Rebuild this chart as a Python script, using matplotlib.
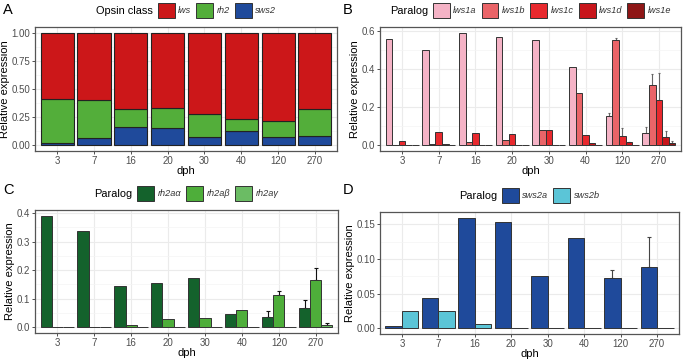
import numpy as np
import matplotlib
matplotlib.use("Agg")
import matplotlib.pyplot as plt
from matplotlib.patches import Rectangle
from matplotlib.offsetbox import HPacker, TextArea, DrawingArea, AnchoredOffsetbox
from matplotlib.ticker import MultipleLocator, FormatStrFormatter

plt.rcParams["font.family"] = ["Liberation Sans", "DejaVu Sans"]

dph = ["3", "7", "16", "20", "30", "40", "120", "270"]

# A: stacked opsin classes
classes = ["lws", "rh2", "sws2"]
sws2_tot = [0.022, 0.068, 0.166, 0.152, 0.075, 0.129, 0.071, 0.086]
rh2_tot = [0.391, 0.336, 0.154, 0.183, 0.204, 0.108, 0.146, 0.240]
lws_tot = [1 - a - b for a, b in zip(sws2_tot, rh2_tot)]
class_colors = ["#CC1719", "#53AE3A", "#1F4A9B"]

# B: lws paralogs
lws_names = ["lws1a", "lws1b", "lws1c", "lws1d", "lws1e"]
lws1a = [0.558, 0.504, 0.593, 0.570, 0.554, 0.414, 0.154, 0.063]
lws1b = [0.0, 0.009, 0.019, 0.030, 0.079, 0.277, 0.554, 0.318]
lws1c = [0.021, 0.072, 0.063, 0.058, 0.082, 0.054, 0.051, 0.237]
lws1d = [0.0, 0.009, 0.004, 0.004, 0.0, 0.011, 0.016, 0.046]
lws1e = [0.0, 0.0, 0.0, 0.0, 0.0, 0.002, 0.0, 0.011]
lws1a_err = [0, 0, 0, 0, 0, 0, 0.018, 0.032]
lws1b_err = [0, 0, 0, 0, 0, 0, 0.009, 0.056]
lws1c_err = [0, 0, 0, 0, 0, 0, 0.039, 0.142]
lws1d_err = [0, 0, 0, 0, 0, 0, 0.003, 0.028]
lws1e_err = [0, 0, 0, 0, 0, 0, 0.0, 0.012]
lws_colors = ["#F5B3C6", "#EA6468", "#E8292E", "#C8151B", "#8E1616"]

# C: rh2 paralogs
rh2_names = ["rh2aα", "rh2aβ", "rh2aγ"]
rh2a_alpha = [0.388, 0.338, 0.145, 0.154, 0.173, 0.046, 0.037, 0.067]
rh2a_beta = [0.0, 0.0, 0.010, 0.029, 0.032, 0.061, 0.112, 0.164]
rh2a_gamma = [0.0, 0.0, 0.001, 0.0, 0.002, 0.0, 0.002, 0.008]
rh2a_alpha_err = [0, 0, 0, 0, 0, 0, 0.022, 0.030]
rh2a_beta_err = [0, 0, 0, 0, 0, 0, 0.015, 0.042]
rh2a_gamma_err = [0, 0, 0, 0, 0, 0, 0.0, 0.006]
rh2_colors = ["#14622C", "#4EAE3A", "#6BBC64"]

# D: sws2 paralogs
sws2_names = ["sws2a", "sws2b"]
sws2a = [0.004, 0.0435, 0.160, 0.153, 0.0757, 0.130, 0.0724, 0.0885]
sws2b = [0.0246, 0.0256, 0.007, 0.001, 0.0, 0.0, 0.0, 0.0]
sws2a_err = [0, 0, 0, 0, 0, 0, 0.0116, 0.0431]
sws2b_err = [0, 0, 0, 0, 0, 0, 0, 0]
sws2_colors = ["#1F4A9B", "#5BC5D7"]

TICK_FS = 7.0
TITLE_FS = 8.0
EDGE = "#333333"


def style_axes(ax, ylim, major, minor, fmt):
    ax.set_xlim(0.4, 8.6)
    ax.set_ylim(*ylim)
    ax.set_xticks(np.arange(1, 9))
    ax.set_xticklabels(dph)
    ax.yaxis.set_major_locator(MultipleLocator(major))
    ax.yaxis.set_minor_locator(MultipleLocator(minor))
    ax.yaxis.set_major_formatter(FormatStrFormatter(fmt))
    ax.grid(which="major", color="#EBEBEB", lw=0.8)
    ax.grid(which="minor", axis="y", color="#F4F4F4", lw=0.5)
    ax.set_axisbelow(True)
    for s in ax.spines.values():
        s.set_color("#555555")
        s.set_linewidth(0.9)
    ax.tick_params(which="major", length=2.2, width=0.6, color="#333333",
                   labelsize=TICK_FS, labelcolor="#4D4D4D", pad=1.3)
    ax.tick_params(which="minor", length=0)
    ax.set_xlabel("dph", fontsize=TITLE_FS, labelpad=0.3)
    ax.set_ylabel("Relative expression", fontsize=TITLE_FS, labelpad=1.2)


def add_legend(ax, title, names, colors):
    items = [TextArea(title, textprops=dict(fontsize=TITLE_FS - 0.1))]
    for n, c in zip(names, colors):
        da = DrawingArea(12.2, 10.8, 0, 0)
        da.add_artist(Rectangle((0, 0), 12.2, 10.8, fc=c, ec=EDGE, lw=0.7))
        items.append(HPacker(children=[da, TextArea(n, textprops=dict(fontsize=6.6, style="italic",
                                                                      color="#333333"))],
                             pad=0, sep=2.5, align="center"))
    box = HPacker(children=items, pad=0, sep=3.5, align="center")
    anch = AnchoredOffsetbox(loc="lower center", child=box, frameon=False,
                             bbox_to_anchor=(0.5, 1.07), bbox_transform=ax.transAxes,
                             borderpad=0, pad=0)
    ax.add_artist(anch)


def dodge_bars(ax, series, errs, colors, ecolor="#333333", cap=1.2):
    x = np.arange(1, 9)
    k = len(series)
    w = 0.9 / k
    for i, (vals, err, c) in enumerate(zip(series, errs, colors)):
        pos = x + (i - (k - 1) / 2) * w
        ax.bar(pos, vals, width=w, color=c, edgecolor=EDGE, linewidth=0.7, zorder=2)
        err = np.array(err)
        m = err > 0
        if m.any():
            ax.errorbar(pos[m], np.array(vals)[m], yerr=[np.zeros(m.sum()), err[m]],
                        fmt="none", ecolor=ecolor, elinewidth=0.8, capsize=cap,
                        capthick=0.8, zorder=1)


fig = plt.figure(figsize=(6.85, 3.61), dpi=100)
W, H = 685, 361


def make_ax(l, r, t, b):
    return fig.add_axes([l / W, 1 - b / H, (r - l) / W, (b - t) / H])


axA = make_ax(35, 337, 27, 151)
axB = make_ax(380, 681, 27, 151)
axC = make_ax(35, 338, 210, 333)
axD = make_ax(380, 679, 212, 334)

# A
x = np.arange(1, 9)
bottom = np.zeros(8)
for vals, c in zip([sws2_tot, rh2_tot, lws_tot], class_colors[::-1]):
    axA.bar(x, vals, bottom=bottom, width=0.9, color=c, edgecolor="#222222", linewidth=0.8, zorder=2)
    bottom += np.array(vals)
style_axes(axA, (-0.05, 1.05), 0.25, 0.125, "%.2f")
add_legend(axA, "Opsin class", classes, class_colors)

# B
dodge_bars(axB, [lws1a, lws1b, lws1c, lws1d, lws1e],
           [lws1a_err, lws1b_err, lws1c_err, lws1d_err, lws1e_err], lws_colors,
           ecolor="#666666", cap=0.6)
style_axes(axB, (-0.03, 0.623), 0.2, 0.1, "%.1f")
add_legend(axB, "Paralog", lws_names, lws_colors)

# C
dodge_bars(axC, [rh2a_alpha, rh2a_beta, rh2a_gamma],
           [rh2a_alpha_err, rh2a_beta_err, rh2a_gamma_err], rh2_colors, ecolor="#111111")
style_axes(axC, (-0.0195, 0.41), 0.1, 0.05, "%.1f")
add_legend(axC, "Paralog", rh2_names, rh2_colors)

# D
dodge_bars(axD, [sws2a, sws2b], [sws2a_err, sws2b_err], sws2_colors, ecolor="#444444")
style_axes(axD, (-0.008, 0.168), 0.05, 0.025, "%.2f")
add_legend(axD, "Paralog", sws2_names, sws2_colors)

for lab, (px, py) in zip("ABCD", [(3, 3), (343, 3), (3, 183), (343, 183)]):
    fig.text(px / W, 1 - py / H, lab, fontsize=10.5, va="top", ha="left")

fig.savefig("out.png", dpi=100)
